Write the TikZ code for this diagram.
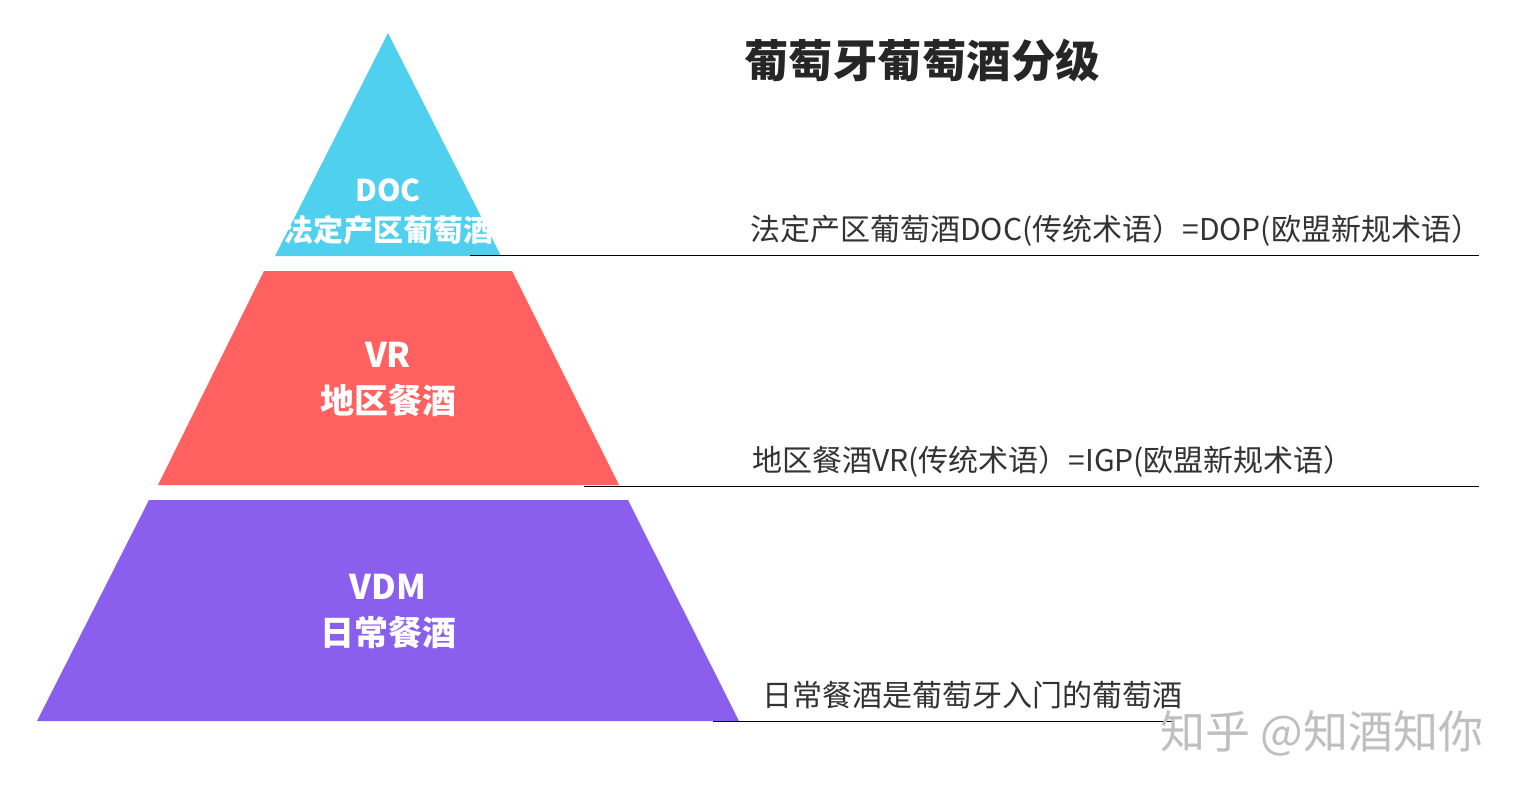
\documentclass[tikz,border=0pt]{standalone}
\usepackage{fontspec}
\setmainfont{Noto Sans CJK SC}
\begin{document}
\begin{tikzpicture}[x=1pt,y=-1pt,
  lbl/.style={text=white,font=\bfseries\fontsize{34}{46}\selectfont,align=center},
  desc/.style={anchor=base west,text=black!80,font=\fontsize{30}{34}\selectfont,inner sep=0},
  rule/.style={draw=black,line width=0.8pt}]
\useasboundingbox[fill=white] (0,0) rectangle (1523,792);
\fill[fill={rgb,255:red,79;green,208;blue,238}] (388,33) -- (501,256) -- (275,256) -- cycle;
\fill[fill={rgb,255:red,255;green,96;blue,96}] (264,271) -- (512,271) -- (619,485) -- (158,485) -- cycle;
\fill[fill={rgb,255:red,139;green,95;blue,238}] (149,500) -- (628,500) -- (739,721) -- (37,721) -- cycle;
\node[lbl,font=\bfseries\fontsize{30}{40}\selectfont] (doc) at (388,212) {DOC\\法定产区葡萄酒};
\node[lbl] (vr) at (388,380) {VR\\地区餐酒};
\node[lbl] (vdm) at (388,612) {VDM\\日常餐酒};
\node[font=\bfseries\fontsize{44.5}{50}\selectfont,text=black!85] (title) at (922,60) {葡萄牙葡萄酒分级};
\coordinate (a1) at (470,255); \coordinate (a2) at (1479,255);
\coordinate (b1) at (584,486); \coordinate (b2) at (1479,486);
\coordinate (c1) at (713,721); \coordinate (c2) at (1172,721);
\draw[rule] (a1) -- (a2); \draw[rule] (b1) -- (b2); \draw[rule] (c1) -- (c2);
\node[desc] (t1) at (750,240) {法定产区葡萄酒DOC(传统术语）=DOP(欧盟新规术语）};
\node[desc] (t2) at (752,471) {地区餐酒VR(传统术语）=IGP(欧盟新规术语）};
\node[desc] (t3) at (762,706) {日常餐酒是葡萄牙入门的葡萄酒};
\node[text=black!25,font=\fontsize{45}{50}\selectfont] (wm) at (1322,733) {知乎 @知酒知你};
\end{tikzpicture}
\end{document}
